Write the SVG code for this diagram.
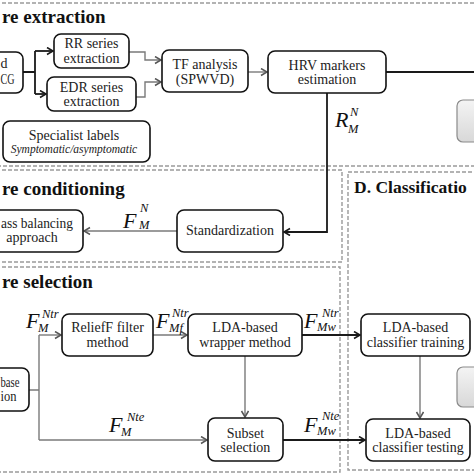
<svg xmlns="http://www.w3.org/2000/svg" width="474" height="474" viewBox="0 0 474 474">
<style>
.frame{fill:none;stroke:#9a9a9a;stroke-width:1.4;stroke-dasharray:4 2}
.box{fill:#fff;stroke:#111;stroke-width:1.6}
.gbox{fill:url(#gg);stroke:#8a8a8a;stroke-width:1.2}
.t{font-family:"Liberation Serif","DejaVu Serif",serif;font-size:14px;fill:#222;text-anchor:middle}
.ts{font-family:"Liberation Serif","DejaVu Serif",serif;font-size:14px;fill:#222}
.ti{font-family:"Liberation Serif","DejaVu Serif",serif;font-size:11.5px;font-style:italic;fill:#222;text-anchor:middle}
.h{font-family:"Liberation Serif","DejaVu Serif",serif;font-size:19px;font-weight:bold;fill:#111}
.m{font-family:"Liberation Serif","DejaVu Serif",serif;font-size:22px;font-style:italic;fill:#111}
.s{font-family:"Liberation Serif","DejaVu Serif",serif;font-size:12.5px;font-style:italic;fill:#111}
.k{fill:none;stroke:#1a1a1a;stroke-width:1.8}
.g{fill:none;stroke:#7a7a7a;stroke-width:1.4}
</style>
<defs>
<linearGradient id="gg" x1="0" y1="0" x2="0" y2="1">
<stop offset="0" stop-color="#f4f4f4"/><stop offset="1" stop-color="#d8d8d8"/>
</linearGradient>
<marker id="ak" markerUnits="userSpaceOnUse" markerWidth="10" markerHeight="10" refX="7" refY="4" orient="auto">
<path d="M1,0.5 L7,4 L1,7.5" fill="none" stroke="#1a1a1a" stroke-width="1.6"/>
</marker>
<marker id="ag" markerUnits="userSpaceOnUse" markerWidth="10" markerHeight="10" refX="7" refY="4" orient="auto">
<path d="M1,0.5 L7,4 L1,7.5" fill="none" stroke="#555" stroke-width="1.5"/>
</marker>
</defs>
<rect width="474" height="474" fill="#fff"/>

<g id="frames">
<rect class="frame" x="-10" y="3" width="494" height="163"/>
<rect class="frame" x="-10" y="170" width="352" height="92"/>
<rect class="frame" x="-10" y="267" width="350" height="205"/>
<rect class="frame" x="348" y="172" width="140" height="298"/>
<text class="h" x="2" y="23">re extraction</text>
<text class="h" x="2" y="195">re conditioning</text>
<text class="h" x="2" y="288">re selection</text>
<text class="h" x="354" y="193" style="font-size:17.5px">D. Classificatio</text>
</g>

<g id="connectors">
<path class="k" d="M23,72 H35 M35,51 V94" stroke="#444"/>
<path class="k" d="M35,51 H53" marker-end="url(#ak)"/>
<path class="k" d="M35,94 H46" marker-end="url(#ak)"/>
<path class="g" d="M129,52 H145 V60 H161" marker-end="url(#ag)"/>
<path class="g" d="M136,97 H145 V82 H161" marker-end="url(#ag)"/>
<path class="g" d="M248,72 H267" marker-end="url(#ag)"/>
<path class="k" d="M386,72 H476"/>
<path class="k" d="M327,93 V232 H284" marker-end="url(#ak)"/>
<path class="g" d="M177,231 H84" marker-end="url(#ag)"/>
<path class="g" d="M29,390 H39 M39,335 V440"/>
<path class="g" d="M39,335 H61" marker-end="url(#ag)"/>
<path class="g" d="M39,440 H207" marker-end="url(#ag)"/>
<path class="g" d="M153,335 H187" marker-end="url(#ag)"/>
<path class="g" d="M245,356 V417" marker-end="url(#ag)"/>
<path class="k" d="M302,335 H360" marker-end="url(#ak)"/>
<path class="g" d="M420,356 V418" marker-end="url(#ag)"/>
<path class="k" d="M283,440 H365" marker-end="url(#ak)"/>
</g>

<g id="labels">
<text class="m" x="335" y="127">R</text><text class="s" x="350" y="116">N</text><text class="s" x="348" y="133">M</text>
<text class="m" x="123" y="228">F</text><text class="s" x="140" y="212">N</text><text class="s" x="139" y="229">M</text>
<text class="m" x="26" y="328">F</text><text class="s" x="42" y="318">Ntr</text><text class="s" x="38" y="332">M</text>
<text class="m" x="156" y="328">F</text><text class="s" x="172" y="317">Ntr</text><text class="s" x="169" y="332">Mf</text>
<text class="m" x="304" y="328">F</text><text class="s" x="322" y="317">Ntr</text><text class="s" x="317" y="331">Mw</text>
<text class="m" x="109" y="432">F</text><text class="s" x="127" y="421">Nte</text><text class="s" x="121" y="436">M</text>
<text class="m" x="304" y="432">F</text><text class="s" x="322" y="420">Nte</text><text class="s" x="317" y="435">Mw</text>
</g>

<g id="n-ecg">
<rect class="box" x="-60" y="52" width="83" height="41" rx="7"/>
<text class="ts" x="0.5" y="68">d</text>
<text class="ts" x="0.5" y="84" textLength="14" lengthAdjust="spacingAndGlyphs">CG</text>
</g>
<g id="n-rr">
<rect class="box" x="54" y="34" width="75" height="34" rx="7"/>
<text class="t" x="91.5" y="48">RR series</text>
<text class="t" x="91.5" y="63">extraction</text>
</g>
<g id="n-edr">
<rect class="box" x="47" y="77" width="89" height="34" rx="7"/>
<text class="t" x="91.5" y="92">EDR series</text>
<text class="t" x="91.5" y="106">extraction</text>
</g>
<g id="n-tf">
<rect class="box" x="162" y="50" width="86" height="42" rx="7"/>
<text class="t" x="205" y="69">TF analysis</text>
<text class="t" x="205" y="84">(SPWVD)</text>
</g>
<g id="n-hrv">
<rect class="box" x="268" y="51" width="118" height="42" rx="7"/>
<text class="t" x="327" y="70">HRV markers</text>
<text class="t" x="327" y="84">estimation</text>
</g>
<g id="n-spec">
<rect class="box" x="3" y="121" width="147" height="41" rx="7"/>
<text class="t" x="74" y="140">Specialist labels</text>
<text class="ti" x="74" y="153">Symptomatic/asymptomatic</text>
</g>
<g id="n-gray1">
<rect class="gbox" x="457" y="100" width="40" height="42" rx="6"/>
</g>
<g id="n-class">
<rect class="box" x="-60" y="210" width="143" height="42" rx="7"/>
<text class="ts" x="1" y="228" textLength="72" lengthAdjust="spacingAndGlyphs">ass balancing</text>
<text class="t" x="32" y="242">approach</text>
</g>
<g id="n-std">
<rect class="box" x="177" y="210" width="106" height="42" rx="7"/>
<text class="t" x="230" y="235">Standardization</text>
</g>
<g id="n-db">
<rect class="box" x="-60" y="368" width="89" height="43" rx="7"/>
<text class="ts" x="0.5" y="387" textLength="19" lengthAdjust="spacingAndGlyphs">base</text>
<text class="ts" x="0.5" y="401" textLength="16" lengthAdjust="spacingAndGlyphs">ion</text>
</g>
<g id="n-relief">
<rect class="box" x="62" y="314" width="91" height="42" rx="7"/>
<text class="t" x="107.5" y="332">ReliefF filter</text>
<text class="t" x="107.5" y="347">method</text>
</g>
<g id="n-wrap">
<rect class="box" x="188" y="314" width="114" height="42" rx="7"/>
<text class="t" x="245" y="332">LDA-based</text>
<text class="t" x="245" y="347">wrapper method</text>
</g>
<g id="n-subset">
<rect class="box" x="208" y="418" width="75" height="43" rx="7"/>
<text class="t" x="245.5" y="438">Subset</text>
<text class="t" x="245.5" y="452">selection</text>
</g>
<g id="n-train">
<rect class="box" x="361" y="314" width="109" height="42" rx="7"/>
<text class="t" x="415.5" y="332">LDA-based</text>
<text class="t" x="415.5" y="347">classifier training</text>
</g>
<g id="n-gray2">
<rect class="gbox" x="457" y="367" width="40" height="40" rx="6"/>
</g>
<g id="n-test">
<rect class="box" x="366" y="419" width="104" height="42" rx="7"/>
<text class="t" x="418" y="438">LDA-based</text>
<text class="t" x="418" y="452">classifier testing</text>
</g>
</svg>
